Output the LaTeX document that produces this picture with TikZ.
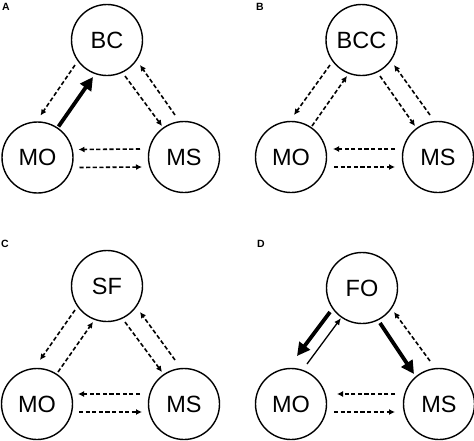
\documentclass[tikz,border=0pt]{standalone}
\usepackage{fontspec}
\setmainfont{Liberation Sans}
\usetikzlibrary{arrows.meta}
\begin{document}
\begin{tikzpicture}[x=1pt,y=-1pt,
  state/.style={circle,draw,line width=1.4pt,minimum size=71pt,inner sep=0pt,font=\fontsize{23.5}{27}\selectfont},
  dsh/.style={line width=1.6pt,dash pattern=on 4.2pt off 2.4pt,-{Latex[length=6pt,width=6pt]}},
  thk/.style={line width=3.8pt,-{Triangle[length=13pt,width=13pt]}},
  thn/.style={line width=1.3pt,-{Latex[length=7pt,width=6pt]}},
  lbl/.style={font=\fontsize{10.5}{12}\selectfont\bfseries,inner sep=0pt}]
\useasboundingbox (0,0) rectangle (474,440);
% Panel A
\node[lbl] (lA) at (6,7) {A};
\node[state] (At) at (107,40) {BC};
\node[state] (Amo) at (37.5,157.5) {MO};
\node[state] (Ams) at (184,157) {MS};
\draw[dsh] ([shift={(-32,25)}]At.center) -- ([shift={(3,-42)}]Amo.center);
\draw[thk] ([shift={(21,-31)}]Amo.center) -- ([shift={(-14,37)}]At.center);
\draw[dsh] ([shift={(18,36)}]At.center) -- ([shift={(-22,-31)}]Ams.center);
\draw[dsh] ([shift={(-9,-42)}]Ams.center) -- ([shift={(33,25)}]At.center);
\draw[dsh] ([shift={(-44,-8)}]Ams.center) -- ([shift={(41,-8)}]Amo.center);
\draw[dsh] ([shift={(42,10)}]Amo.center) -- ([shift={(-42,10)}]Ams.center);
% Panel B
\node[lbl] (lB) at (260,7) {B};
\node[state] (Bt) at (361.5,40) {BCC};
\node[state] (Bmo) at (291,157) {MO};
\node[state] (Bms) at (438,157) {MS};
\draw[dsh] ([shift={(-31.5,25)}]Bt.center) -- ([shift={(3,-42)}]Bmo.center);
\draw[dsh] ([shift={(21,-31)}]Bmo.center) -- ([shift={(-14.5,36)}]Bt.center);
\draw[dsh] ([shift={(18.5,36)}]Bt.center) -- ([shift={(-23,-31)}]Bms.center);
\draw[dsh] ([shift={(-8,-42)}]Bms.center) -- ([shift={(32.5,25)}]Bt.center);
\draw[dsh] ([shift={(-43,-8)}]Bms.center) -- ([shift={(42,-8)}]Bmo.center);
\draw[dsh] ([shift={(43,10)}]Bmo.center) -- ([shift={(-43,10)}]Bms.center);
% Panel C
\node[lbl] (lC) at (5,244) {C};
\node[state] (Ct) at (107,286) {SF};
\node[state] (Cmo) at (37,404) {MO};
\node[state] (Cms) at (184,404) {MS};
\draw[dsh] ([shift={(-32,24)}]Ct.center) -- ([shift={(3,-44)}]Cmo.center);
\draw[dsh] ([shift={(21,-32)}]Cmo.center) -- ([shift={(-14,36)}]Ct.center);
\draw[dsh] ([shift={(18,36)}]Ct.center) -- ([shift={(-22,-32)}]Cms.center);
\draw[dsh] ([shift={(-9,-44)}]Cms.center) -- ([shift={(33,26)}]Ct.center);
\draw[dsh] ([shift={(-44,-10)}]Cms.center) -- ([shift={(41,-10)}]Cmo.center);
\draw[dsh] ([shift={(42,8)}]Cmo.center) -- ([shift={(-42,8)}]Cms.center);
% Panel D
\node[lbl] (lD) at (261,244) {D};
\node[state] (Dt) at (362,288) {FO};
\node[state] (Dmo) at (291,404) {MO};
\node[state] (Dms) at (439,404) {MS};
\draw[thk] ([shift={(-32,24)}]Dt.center) -- ([shift={(6,-48)}]Dmo.center);
\draw[thn] ([shift={(16,-40)}]Dmo.center) -- ([shift={(-21,30)}]Dt.center);
\draw[thk] ([shift={(18,35)}]Dt.center) -- ([shift={(-25,-30)}]Dms.center);
\draw[dsh] ([shift={(-9,-43)}]Dms.center) -- ([shift={(32,24)}]Dt.center);
\draw[dsh] ([shift={(-44,-10)}]Dms.center) -- ([shift={(46,-10)}]Dmo.center);
\draw[dsh] ([shift={(43,8)}]Dmo.center) -- ([shift={(-44,8)}]Dms.center);
\end{tikzpicture}
\end{document}
